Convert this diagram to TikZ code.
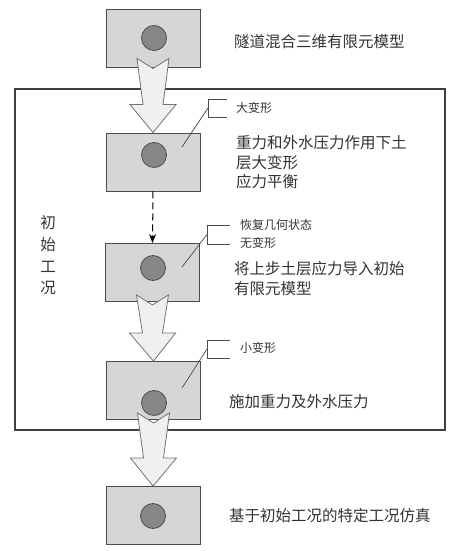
\documentclass[tikz,border=0pt]{standalone}
\usepackage{fontspec}
\newfontfamily\cjk{Noto Sans CJK SC}
\usetikzlibrary{calc,arrows.meta}
\definecolor{boxgray}{RGB}{214,214,214}
\definecolor{ballgray}{RGB}{135,135,135}
\tikzset{
BOX/.style ={draw=black!70,fill=boxgray,line join=miter,line width=0.9pt,minimum width=94pt,minimum height=58pt,inner sep=0pt},
BALL/.style ={circle,draw=black!70,fill=ballgray,line width=0.8pt,minimum size=25pt,inner sep=0pt},
BLOCK/.style ={draw=black!55,fill=black!6,line join=miter,miter limit=4.00,line width=0.8pt},
FRAME/.style ={draw=black!75,line width=1.1pt},
DASHARROW/.style ={draw=black,line width=1pt,dash pattern=on 7pt off 4pt,-{Stealth[length=9pt,width=7pt]}},
CALLOUT/.style ={draw=black!70,line width=0.7pt},
LABEL/.style ={anchor=west,inner sep=0pt,align=left,text=black!80,font=\cjk\fontsize{15.5}{19.5}\selectfont},
SMALLLABEL/.style ={anchor=west,inner sep=0pt,text=black!80,font=\cjk\fontsize{12}{18}\selectfont},
}
% hollow block arrow with notched tail, from #1 (tail) to #2 (tip)
\newcommand{\BIGARROW}[2]{%
  \path[BLOCK] let \p1=(#1), \p2=(#2) in
    (\x1-16pt,\y1) -- (\x1,\y1-10pt) -- (\x1+16pt,\y1) -- (\x1+10pt,\y2+28pt)
    -- (\x1+23pt,\y2+28pt) -- (\x2,\y2) -- (\x1-23pt,\y2+28pt) -- (\x1-10pt,\y2+28pt) -- cycle;}

\begin{document}
\begin{tikzpicture}[x=1pt,y=-1pt] %initial condition flow
	\useasboundingbox (0,0) rectangle (474,551);
	\path[FRAME] (15,89) rectangle (445,430);

	\node[BOX] (m1) at (153,38) {};
	\node[BOX] (m2) at (153,162) {};
	\node[BOX] (m3) at (152.5,272.5) {};
	\node[BOX] (m4) at (153.5,390.5) {};
	\node[BOX] (m5) at (153,515.5) {};
	\node[BALL] (c1) at (154,38) {};
	\node[BALL] (c2) at (154,155) {};
	\node[BALL] (c3) at (153,268) {};
	\node[BALL] (c4) at (154,403) {};
	\node[BALL] (c5) at (153,516) {};

	\BIGARROW{$(m1.south)+(0,-9)$}{m2.north}
	\BIGARROW{$(m3.south)+(0,-7)$}{m4.north}
	\BIGARROW{$(m4.south)+(0,-7)$}{m5.north}
	\path[DASHARROW] (m2.south) -- (m3.north);

	% callouts
	\coordinate (p2) at (182,147);
	\coordinate (k2) at (208,108);
	\coordinate (p3) at (182,267);
	\coordinate (k3) at (207,234.5);
	\coordinate (p4) at (182,388);
	\coordinate (k4) at (207,349);
	\path[CALLOUT] (p2) -- (k2);
	\path[CALLOUT] ($(k2)+(19,-9)$) -- ++(-19,0) -- ++(0,18) -- ++(19,0);
	\path[CALLOUT] (p3) -- (k3);
	\path[CALLOUT] ($(k3)+(23,-9.5)$) -- ++(-23,0) -- ++(0,19) -- ++(23,0);
	\path[CALLOUT] (p4) -- (k4);
	\path[CALLOUT] ($(k4)+(23,-9)$) -- ++(-23,0) -- ++(0,18) -- ++(23,0);

	\node[SMALLLABEL] (s2) at (236,108) {大变形};
	\node[SMALLLABEL] (s3a) at (240,225) {恢复几何状态};
	\node[SMALLLABEL] (s3b) at (240,243) {无变形};
	\node[SMALLLABEL] (s4) at (240,348) {小变形};

	\node[LABEL] (t1) at (234,42) {隧道混合三维有限元模型};
	\node[LABEL] (t2) at (236,162.5) {重力和外水压力作用下土\\层大变形\\应力平衡};
	\node[LABEL] (t3) at (234,278.5) {将上步土层应力导入初始\\有限元模型};
	\node[LABEL] (t4) at (229,402) {施加重力及外水压力};
	\node[LABEL] (t5) at (229,516) {基于初始工况的特定工况仿真};
	\node[inner sep=0pt,align=center,text=black!80,font=\cjk\fontsize{15.5}{21.7}\selectfont] (side) at (48,255.5) {初\\始\\工\\况};
\end{tikzpicture}
\end{document}
